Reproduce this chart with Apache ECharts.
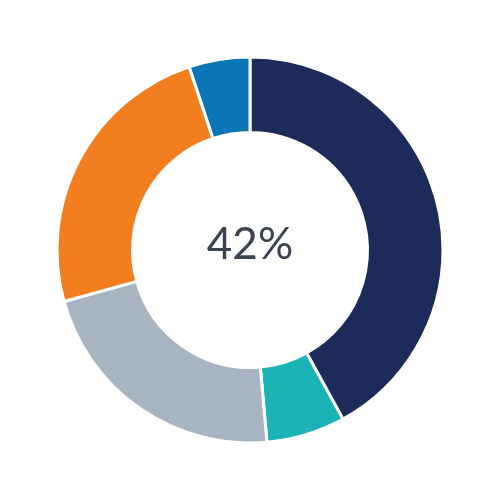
<!DOCTYPE html>
<html>
<head>
<meta charset="utf-8">
<script src="https://cdn.jsdelivr.net/npm/echarts@6/dist/echarts.min.js"></script>
<style>
  html, body { margin: 0; padding: 0; background: #fff; }
  #chart { width: 500px; height: 500px; }
</style>
</head>
<body>
<div id="chart"></div>
<script>
// slice data, clockwise from 12 o'clock
var categories = ['A', 'B', 'C', 'D', 'E'];
var values = [42, 6.6, 22.1, 24.2, 5.1];
var colors = ['#1c2b5a', '#1bb3b5', '#a9b4c2', '#f27e20', '#0b76b5'];
var centerText = '42%';

var myChart = echarts.init(document.getElementById('chart'));

var option = {
    animation: false,
    color: colors,
    graphic: [{
        type: 'text',
        left: 'center',
        top: 223,
        style: {
            text: centerText,
            font: 'normal 44px Lato, "Open Sans", sans-serif',
            fill: '#3b444e'
        }
    }],
    series: [{
        type: 'pie',
        radius: ['47%', '77.2%'],
        center: ['50%', '50%'],
        startAngle: 90,
        clockwise: true,
        label: { show: false },
        labelLine: { show: false },
        emphasis: { disabled: true },
        itemStyle: { borderColor: '#fff', borderWidth: 3 },
        data: categories.map(function (c, i) {
            return { name: c, value: values[i] };
        })
    }]
};

myChart.setOption(option);
</script>
</body>
</html>
